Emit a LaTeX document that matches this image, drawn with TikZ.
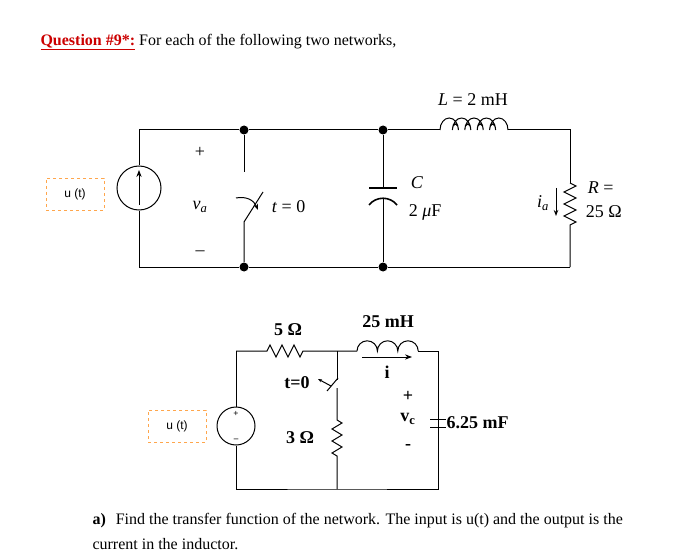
\documentclass[tikz,border=0pt]{standalone}
\usepackage{fontspec}
\setmainfont{Liberation Serif}
\setsansfont{Liberation Sans}
\usetikzlibrary{arrows.meta,decorations.pathmorphing}
\begin{document}
\begin{tikzpicture}[x=1pt,y=-1pt,line width=1pt,
  dot/.style={circle,fill,inner sep=0pt,minimum size=9pt},
  ubox/.style={draw=orange!70,dashed,thin,minimum width=58pt,minimum height=32pt,font=\sffamily\fontsize{12}{14}\selectfont},
  lbl/.style={font=\fontsize{18}{21}\selectfont},
  blbl/.style={font=\fontsize{18}{21}\selectfont\bfseries}]
\useasboundingbox (0,0) rectangle (700,553);
\fill[white] (0,0) rectangle (700,553);
\node[anchor=west,inner sep=0,font=\fontsize{16}{19}\selectfont] (title) at (40,42) {\textcolor{red!80!black}{\bfseries\underline{Question \#9*:}} For each of the following two networks,};
% top circuit
\coordinate (tl) at (139,130); \coordinate (bl) at (139,267);
\node[dot] (n1t) at (244,130) {}; \node[dot] (n1b) at (244,267) {};
\node[dot] (n2t) at (383,130) {}; \node[dot] (n2b) at (383,267) {};
\coordinate (tr) at (570,130); \coordinate (br) at (570,267);
\node[draw,circle,minimum size=44pt,inner sep=0] (src) at (139,188) {};
\draw[-{Stealth[length=7pt]}] (139,205) -- (139,170);
\draw (tl) -- (src.north); \draw (src.south) -- (bl);
\draw (tl) -- (n1t) -- (n2t) -- (440,130);
\draw (440,130) arc (180:360:9.2 and 12) arc (0:-180:3 and 6)
  arc (180:360:9.2 and 12) arc (0:-180:3 and 6)
  arc (180:360:9.2 and 12) arc (0:-180:3 and 6)
  arc (180:360:9.2 and 12) arc (0:-180:3 and 6)
  arc (180:360:9.2 and 12) coordinate (le);
\draw (le) -- (tr) -- (570,183);
\draw (570,183) -- (576,186) -- (564,192) -- (576,198) -- (564,204) -- (576,210) -- (564,216) -- (576,222) -- (570,225) -- (br);
\draw (bl) -- (n1b) -- (n2b) -- (br);
\node[ubox] (ub1) at (75,194) {u (t)};
\node[lbl] (pl) at (200,152) {+};
\node[lbl] (va) at (200,207) {\textit{v}\textsubscript{\textit{a}}};
\node[lbl] (mi) at (200,253) {–};
% switch
\draw (n1t) -- (244,172);
\draw (n1b) -- (244,222) -- (263,192);
\draw[-{Stealth[length=6pt]}] (236,198) .. controls (246,196) and (254,200) .. (258,210);
\node[lbl,anchor=west] (t0) at (268,207) {\textit{t} = 0};
% capacitor
\draw (n2t) -- (383,188); \draw[line width=1.6pt] (369,188) -- (397,188);
\draw[line width=1.6pt] (369,205) .. controls (376,196) and (390,196) .. (397,205);
\draw (383,198) -- (n2b);
\node[lbl,anchor=west] (cl) at (407,183) {\textit{C}};
\node[lbl,anchor=west] (cv) at (405,212) {2 \textit{μ}F};
\node[lbl] (ll) at (473,100) {\textit{L} = 2 mH};
\node[lbl] (ia) at (543,203) {\textit{i}\textsubscript{\textit{a}}};
\draw[-{Stealth[length=6pt]}] (556,188) -- (556,216);
\node[lbl,anchor=west] (rl) at (584,188) {\textit{R} =};
\node[lbl,anchor=west] (rv) at (582,212) {25 Ω};
% bottom circuit
\coordinate (a1) at (236,351); \coordinate (a2) at (236,489);
\coordinate (m1) at (337,351); \coordinate (m2) at (337,489);
\coordinate (r1) at (438,351); \coordinate (r2) at (438,489);
\node[draw,circle,minimum size=38pt,inner sep=0] (vs) at (236,426) {};
\node[font=\small\bfseries] at (236,414) {+}; \node[font=\small\bfseries] at (236,440) {–};
\draw (a1) -- (vs.north); \draw (vs.south) -- (a2) -- (m2) -- (r2) -- (r1) -- (418,351);
\draw (a1) -- (267,351) -- (270,345) -- (276,357) -- (282,345) -- (288,357) -- (294,345) -- (300,357) -- (303,351) -- (m1) -- (357,351);
\draw (357,351) arc (180:360:10.2) arc (180:360:10.2) arc (180:360:10.2);
\draw (m1) -- (337,380);
\draw (337,388) -- (337,420) -- (342,423) -- (332,429) -- (342,435) -- (332,441) -- (342,447) -- (332,453) -- (337,456) -- (m2);
\draw (327,391) -- (338,378);
\draw[-{Stealth[length=4pt]}] (331,386) -- (318,379);
\node[blbl] (t0b) at (297,383) {t=0};
\draw[-{Stealth[length=7pt]}] (362,357) -- (412,357);
\node[blbl] (ib) at (387,372) {i};
\node[blbl] (lb) at (388,322) {25 mH};
\node[blbl] (rb) at (288,330) {5 Ω};
\node[blbl] (r3) at (300,438) {3 Ω};
\node[blbl] at (408,396) {+};
\node[blbl] at (408,419) {v\textsubscript{c}};
\node[blbl] at (408,447) {-};
\draw (430,419) -- (446,419); \draw (430,427) -- (446,427);
\node[blbl,anchor=west,inner sep=0] (cb) at (446,423) {6.25 mF};
\node[ubox] (ub2) at (177,426) {u (t)};
\node[anchor=west,inner sep=0,font=\fontsize{16}{19}\selectfont] (qa) at (92,521) {\textbf{a)}\hspace{10pt}Find the transfer function of the network. The input is u(t) and the output is the};
\node[anchor=west,inner sep=0,font=\fontsize{16}{19}\selectfont] (qb) at (92,544) {current in the inductor.};
\end{tikzpicture}
\end{document}
